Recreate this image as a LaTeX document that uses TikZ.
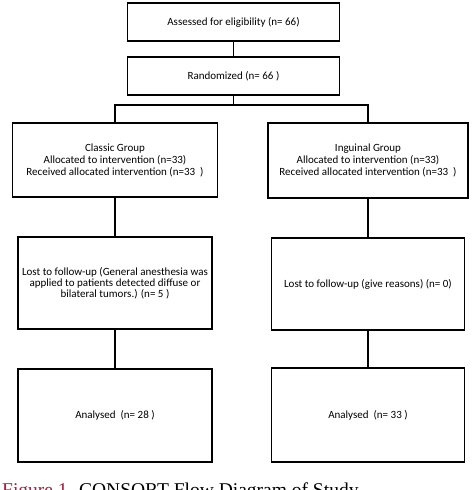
\documentclass[tikz,border=0pt]{standalone}
\usepackage{fontspec}
\setmainfont{Carlito}
\newfontfamily\capfont{Liberation Serif}
\definecolor{figred}{RGB}{165,30,60}
\begin{document}
\begin{tikzpicture}[x=1pt,y=1pt,
  box/.style={draw=black, line width=1.9pt, fill=white, inner sep=1pt, align=center,
    font=\fontsize{11}{12}\selectfont},
  conn/.style={line width=1.9pt, draw=black}]
\useasboundingbox (0,0) rectangle (474,-490);
\node[box, minimum width=212, minimum height=38] (b1) at (233.5,-22) {Assessed for eligibility (n= 66)};
\node[box, minimum width=212, minimum height=38] (b2) at (233.5,-76) {Randomized (n= 66 )};
\node[box, minimum width=205, minimum height=74] (b3) at (115,-160) {Classic Group\\Allocated to intervention (n=33)\\Received allocated intervention (n=33 \ )};
\node[box, minimum width=200, minimum height=75] (b4) at (368,-160.5) {Inguinal Group\\Allocated to intervention (n=33)\\Received allocated intervention (n=33 \ )};
\node[box, minimum width=194, minimum height=92, font=\fontsize{11}{10.8}\selectfont] (b5) at (115,-283) {Lost to follow-up (General anesthesia was\\applied to patients detected diffuse or\\bilateral tumors.) (n= 5 )};
\node[box, minimum width=193, minimum height=92] (b6) at (368,-284) {Lost to follow-up (give reasons) (n= 0)};
\node[box, minimum width=194, minimum height=93] (b7) at (115,-415.5) {Analysed \ (n= 28 )};
\node[box, minimum width=193, minimum height=94] (b8) at (368,-415) {Analysed \ (n= 33 )};
\coordinate (j) at (233.5,-105);
\draw[conn] (b1.south) -- (b2.north);
\draw[conn] (b2.south) -- (j);
\draw[conn] (j) -| (b3.north);
\draw[conn] (j) -| (b4.north);
\draw[conn] (b3.south) -- (b5.north);
\draw[conn] (b4.south) -- (b6.north);
\draw[conn] (b5.south) -- (b7.north);
\draw[conn] (b6.south) -- (b8.north);
\node[anchor=base west, inner sep=0pt, font=\capfont\fontsize{19.5}{22}\selectfont] (cap) at (2,-496) {\textcolor{figred}{Figure 1.} CONSORT Flow Diagram of Study};
\end{tikzpicture}
\end{document}
